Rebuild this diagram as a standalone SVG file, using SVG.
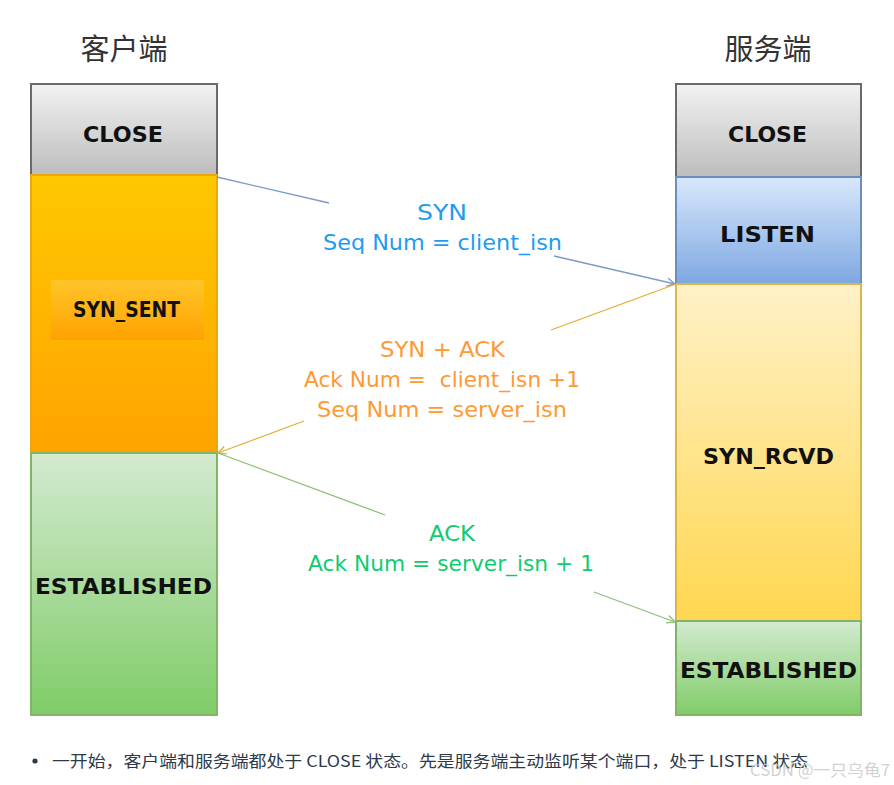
<svg xmlns="http://www.w3.org/2000/svg" width="894" height="785" viewBox="0 0 894 785">
<defs>
  <linearGradient id="gGray" x1="0" y1="0" x2="0" y2="1"><stop offset="0" stop-color="#f2f2f2"/><stop offset="1" stop-color="#bdbdbd"/></linearGradient>
  <linearGradient id="gOrange" x1="0" y1="0" x2="0" y2="1"><stop offset="0" stop-color="#ffc800"/><stop offset="1" stop-color="#ffa300"/></linearGradient>
  <linearGradient id="gInner" x1="0" y1="0" x2="0" y2="1"><stop offset="0" stop-color="#ffc52a"/><stop offset="1" stop-color="#ffa200"/></linearGradient>
  <linearGradient id="gGreen" x1="0" y1="0" x2="0" y2="1"><stop offset="0" stop-color="#d3ead0"/><stop offset="1" stop-color="#80cc68"/></linearGradient>
  <linearGradient id="gBlue" x1="0" y1="0" x2="0" y2="1"><stop offset="0" stop-color="#d8e8fc"/><stop offset="1" stop-color="#7ea8e2"/></linearGradient>
  <linearGradient id="gYellow" x1="0" y1="0" x2="0" y2="1"><stop offset="0" stop-color="#fff1c8"/><stop offset="1" stop-color="#ffd750"/></linearGradient>
  <marker id="aBlue" viewBox="0 0 10 10" refX="9" refY="5" markerWidth="10" markerHeight="10" markerUnits="userSpaceOnUse" orient="auto"><path d="M1,1 L9,5 L1,9" fill="none" stroke="#7b9bc6" stroke-width="1.3"/></marker>
  <marker id="aGold" viewBox="0 0 10 10" refX="9" refY="5" markerWidth="10" markerHeight="10" markerUnits="userSpaceOnUse" orient="auto"><path d="M1,1 L9,5 L1,9" fill="none" stroke="#e0b032" stroke-width="1.3"/></marker>
  <marker id="aGreen" viewBox="0 0 10 10" refX="9" refY="5" markerWidth="10" markerHeight="10" markerUnits="userSpaceOnUse" orient="auto"><path d="M1,1 L9,5 L1,9" fill="none" stroke="#8cbf7a" stroke-width="1.3"/></marker>
</defs>
<style>
  .title { font-family: "Noto Sans CJK SC", "Noto Sans", sans-serif; font-size: 29px; fill: #333; text-anchor: middle; }
  .state { font-family: "DejaVu Sans", "Liberation Sans", sans-serif; font-size: 22px; font-weight: bold; fill: #111; }
  .msg { font-family: "DejaVu Sans", "Liberation Sans", sans-serif; font-size: 22px; }
  .blue { fill: #1e9cf0; }
  .orange { fill: #ff9933; }
  .green { fill: #10cc6e; }
  .conn { fill: none; stroke-width: 1.3; }
  .note { font-family: "Noto Sans CJK SC", "Noto Sans", sans-serif; font-size: 16px; fill: #2c3a4a; }
</style>
<rect width="894" height="785" fill="#ffffff"/>

<text class="title" x="124" y="60">客户端</text>
<text class="title" x="768" y="60">服务端</text>

<g id="client-close">
  <rect x="31" y="84" width="186" height="91" fill="url(#gGray)" stroke="#6a6a6a" stroke-width="2"/>
  <text class="state" x="83" y="142" textLength="80" lengthAdjust="spacingAndGlyphs">CLOSE</text>
</g>
<g id="client-syn-sent">
  <rect x="31" y="175" width="186" height="278" fill="url(#gOrange)" stroke="#e9a90c" stroke-width="2"/>
  <rect x="51" y="280" width="153" height="60" fill="url(#gInner)"/>
  <text class="state" x="73" y="317" font-size="17" textLength="107" lengthAdjust="spacingAndGlyphs">SYN_SENT</text>
</g>
<g id="client-established">
  <rect x="31" y="453" width="186" height="262" fill="url(#gGreen)" stroke="#82b366" stroke-width="2"/>
  <text class="state" x="35" y="594" font-size="24" textLength="177" lengthAdjust="spacingAndGlyphs">ESTABLISHED</text>
</g>

<g id="server-close">
  <rect x="676" y="84" width="185" height="93" fill="url(#gGray)" stroke="#6a6a6a" stroke-width="2"/>
  <text class="state" x="728" y="142" textLength="79" lengthAdjust="spacingAndGlyphs">CLOSE</text>
</g>
<g id="server-listen">
  <rect x="676" y="177" width="185" height="107" fill="url(#gBlue)" stroke="#6c8ebf" stroke-width="2"/>
  <text class="state" x="720" y="242" textLength="95" lengthAdjust="spacingAndGlyphs">LISTEN</text>
</g>
<g id="server-syn-rcvd">
  <rect x="676" y="284" width="185" height="337" fill="url(#gYellow)" stroke="#d9b54a" stroke-width="2"/>
  <text class="state" x="703" y="464" textLength="131" lengthAdjust="spacingAndGlyphs">SYN_RCVD</text>
</g>
<g id="server-established">
  <rect x="676" y="621" width="185" height="94" fill="url(#gGreen)" stroke="#82b366" stroke-width="2"/>
  <text class="state" x="680" y="678" font-size="24" textLength="177" lengthAdjust="spacingAndGlyphs">ESTABLISHED</text>
</g>

<g id="connectors">
  <path class="conn" stroke="#7b9bc6" d="M217,177 L329,203 M554,256 L675,284" marker-end="url(#aBlue)"/>
  <path class="conn" stroke="#e0b032" d="M676,284 L551,330 M304,421 L218,453" marker-end="url(#aGold)"/>
  <path class="conn" stroke="#8cbf7a" d="M218,453 L385,515 M594,592 L675,622" marker-end="url(#aGreen)"/>
</g>

<g id="label-syn">
  <text class="msg blue" x="417" y="220" textLength="50" lengthAdjust="spacingAndGlyphs">SYN</text>
  <text class="msg blue" x="323" y="250" textLength="239" lengthAdjust="spacingAndGlyphs">Seq Num = client_isn</text>
</g>
<g id="label-synack">
  <text class="msg orange" x="380" y="357" textLength="125" lengthAdjust="spacingAndGlyphs">SYN + ACK</text>
  <text class="msg orange" x="304" y="387" textLength="276" lengthAdjust="spacingAndGlyphs" xml:space="preserve">Ack Num =  client_isn +1</text>
  <text class="msg orange" x="317" y="417" textLength="250" lengthAdjust="spacingAndGlyphs">Seq Num = server_isn</text>
</g>
<g id="label-ack">
  <text class="msg green" x="429" y="541" textLength="46" lengthAdjust="spacingAndGlyphs">ACK</text>
  <text class="msg green" x="308" y="571" textLength="286" lengthAdjust="spacingAndGlyphs">Ack Num = server_isn + 1</text>
</g>

<circle cx="35" cy="761" r="2.6" fill="#2c3a4a"/>
<text class="note" x="52" y="767" textLength="756" lengthAdjust="spacingAndGlyphs">一开始，客户端和服务端都处于 CLOSE 状态。先是服务端主动监听某个端口，处于 LISTEN 状态</text>
<text x="750" y="776" font-family="Noto Sans CJK SC, Noto Sans, sans-serif" font-size="16" fill="#c8c8c8" fill-opacity="0.85" textLength="140" lengthAdjust="spacingAndGlyphs">CSDN @一只乌龟7</text>
</svg>
